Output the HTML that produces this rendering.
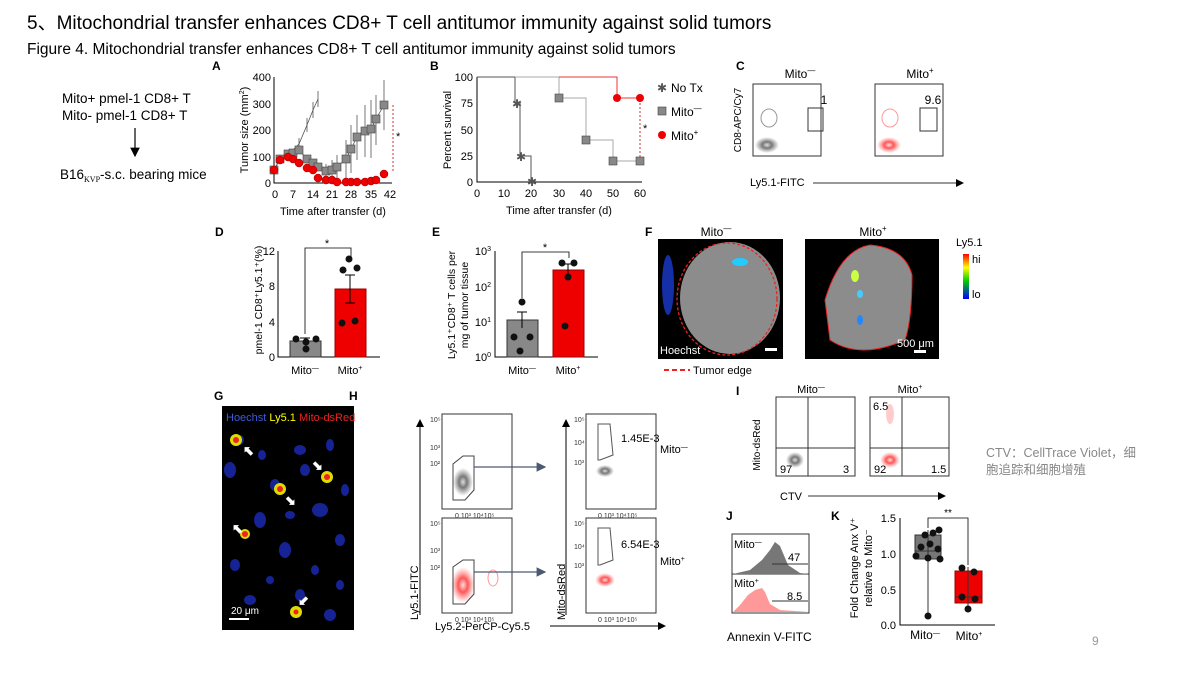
<!DOCTYPE html>
<html><head><meta charset="utf-8"><style>
body{margin:0;background:#fff;width:1192px;height:671px;overflow:hidden}
svg{font-family:"Liberation Sans",Arial,"Noto Sans CJK SC",sans-serif}
</style></head><body>
<svg width="1192" height="671" viewBox="0 0 1192 671" xmlns="http://www.w3.org/2000/svg">
<defs>
<radialGradient id="gk"><stop offset="0" stop-color="#ddd"/><stop offset=".4" stop-color="#777"/><stop offset="1" stop-color="#888" stop-opacity="0"/></radialGradient>
<radialGradient id="rk"><stop offset="0" stop-color="#fdd"/><stop offset=".4" stop-color="#f55"/><stop offset="1" stop-color="#f88" stop-opacity="0"/></radialGradient>
<linearGradient id="cb" x1="0" y1="0" x2="0" y2="1"><stop offset="0" stop-color="#f00"/><stop offset=".3" stop-color="#ff0"/><stop offset=".6" stop-color="#0c0"/><stop offset="1" stop-color="#00f"/></linearGradient>
<marker id="ar" markerWidth="8" markerHeight="8" refX="7" refY="4" orient="auto"><path d="M0,0 L8,4 L0,8z" fill="#000"/></marker>
<marker id="ab" markerWidth="8" markerHeight="8" refX="7" refY="4" orient="auto"><path d="M0,0 L8,4 L0,8z" fill="#4a5a70"/></marker>
</defs>
<text x="27" y="29" font-size="19">5、Mitochondrial transfer enhances CD8+ T cell antitumor immunity against solid tumors</text>
<text x="27" y="54" font-size="15.5">Figure 4. Mitochondrial transfer enhances CD8+ T cell antitumor immunity against solid tumors</text>
<text x="62" y="103" font-size="13.5">Mito+ pmel-1 CD8+ T</text>
<text x="62" y="120" font-size="13.5">Mito- pmel-1 CD8+ T</text>
<line x1="135" y1="128" x2="135" y2="156" stroke="#000" stroke-width="1.2" marker-end="url(#ar)"/>
<text x="60" y="179" font-size="13.5">B16<tspan font-size="8" dy="3" font-family="Liberation Serif">KVP</tspan><tspan dy="-3">-s.c. bearing mice</tspan></text>

<g font-size="11">
<!-- A -->
<text x="212" y="70" font-size="12" font-weight="bold">A</text>
<path d="M274,77 V183 H392" fill="none" stroke="#000"/>
<g text-anchor="end"><text x="271" y="81">400</text><text x="271" y="108">300</text><text x="271" y="134">200</text><text x="271" y="161">100</text><text x="271" y="187">0</text></g>
<g text-anchor="middle"><text x="275" y="198">0</text><text x="293" y="198">7</text><text x="313" y="198">14</text><text x="332" y="198">21</text><text x="351" y="198">28</text><text x="371" y="198">35</text><text x="390" y="198">42</text>
<text x="333" y="215">Time after transfer (d)</text></g>
<text transform="translate(248,130) rotate(-90)" text-anchor="middle">Tumor size (mm<tspan font-size="7" dy="-4">2</tspan><tspan dy="4">)</tspan></text>
<g stroke="#555" stroke-width="0.8" fill="none">
<path d="M274,170 L280,159 L288,154 L293,150 L299,144 L307,125 L313,110 L318,99"/>
<path d="M307,118v14M313,102v16M318,91v16M299,138v12"/>
<path d="M274,170 L280,159 L288,154 L293,153 L299,150 L307,159 L313,163 L318,167 L326,171 L332,170 L337,167 L346,159 L351,149 L357,137 L365,131 L371,129 L376,119 L384,105"/>
<path d="M326,164v14M332,160v20M337,155v24M346,140v38M351,125v48M357,115v45M365,105v52M371,100v58M376,95v50M384,80v50"/>
</g>
<g fill="#888" stroke="#444" stroke-width="0.6">
<rect x="270" y="166" width="8" height="8"/><rect x="276" y="155" width="8" height="8"/><rect x="284" y="150" width="8" height="8"/><rect x="289" y="149" width="8" height="8"/><rect x="295" y="146" width="8" height="8"/><rect x="303" y="155" width="8" height="8"/><rect x="309" y="159" width="8" height="8"/><rect x="314" y="163" width="8" height="8"/><rect x="322" y="167" width="8" height="8"/><rect x="328" y="166" width="8" height="8"/><rect x="333" y="163" width="8" height="8"/><rect x="342" y="155" width="8" height="8"/><rect x="347" y="145" width="8" height="8"/><rect x="353" y="133" width="8" height="8"/><rect x="361" y="127" width="8" height="8"/><rect x="367" y="125" width="8" height="8"/><rect x="372" y="115" width="8" height="8"/><rect x="380" y="101" width="8" height="8"/>
</g>
<g fill="#e00" stroke="#900" stroke-width="0.5">
<circle cx="274" cy="170" r="4"/><circle cx="280" cy="160" r="4"/><circle cx="288" cy="157" r="4"/><circle cx="293" cy="159" r="4"/><circle cx="299" cy="163" r="4"/><circle cx="307" cy="168" r="4"/><circle cx="313" cy="170" r="4"/><circle cx="318" cy="178" r="4"/><circle cx="326" cy="180" r="4"/><circle cx="332" cy="180" r="4"/><circle cx="337" cy="182" r="4"/><circle cx="346" cy="182" r="4"/><circle cx="351" cy="182" r="4"/><circle cx="357" cy="182" r="4"/><circle cx="365" cy="182" r="4"/><circle cx="371" cy="181" r="4"/><circle cx="376" cy="180" r="4"/><circle cx="384" cy="174" r="4"/>
</g>
<line x1="393" y1="105" x2="393" y2="172" stroke="#c33" stroke-dasharray="2,2"/>
<text x="396" y="140">*</text>

<!-- B -->
<text x="430" y="70" font-size="12" font-weight="bold">B</text>
<path d="M477,77 V182 H642" fill="none" stroke="#000"/>
<g text-anchor="end"><text x="473" y="81">100</text><text x="473" y="107">75</text><text x="473" y="134">50</text><text x="473" y="160">25</text><text x="473" y="186">0</text></g>
<g text-anchor="middle"><text x="477" y="197">0</text><text x="504" y="197">10</text><text x="531" y="197">20</text><text x="559" y="197">30</text><text x="586" y="197">40</text><text x="613" y="197">50</text><text x="640" y="197">60</text>
<text x="559" y="214">Time after transfer (d)</text></g>
<text transform="translate(451,130) rotate(-90)" text-anchor="middle">Percent survival</text>
<path d="M477,77 H515 V103 H520 V156 H531 V182" fill="none" stroke="#555"/>
<path d="M515,77 H559 V98 H586 V140 H613 V161 H640" fill="none" stroke="#aaa"/>
<path d="M559,77 H617 V98 H640" fill="none" stroke="#e33"/>
<line x1="640" y1="99" x2="640" y2="159" stroke="#c33" stroke-dasharray="2,2"/>
<text x="643" y="132">*</text>
<g font-size="12" fill="#555"><text x="512" y="108">✱</text><text x="516" y="161">✱</text><text x="527" y="186">✱</text></g>
<g fill="#888" stroke="#444" stroke-width="0.6"><rect x="555" y="94" width="8" height="8"/><rect x="582" y="136" width="8" height="8"/><rect x="609" y="157" width="8" height="8"/><rect x="636" y="157" width="8" height="8"/></g>
<circle cx="617" cy="98" r="4" fill="#e00"/><circle cx="640" cy="98" r="4" fill="#e00"/>
<text x="657" y="92" font-size="12" fill="#555">✱</text><text x="671" y="92" font-size="12">No Tx</text>
<rect x="658" y="107" width="8" height="8" fill="#888" stroke="#444" stroke-width=".6"/><text x="671" y="116" font-size="12">Mito<tspan font-size="8" dy="-5">—</tspan></text>
<circle cx="662" cy="135" r="4" fill="#e00"/><text x="671" y="140" font-size="12">Mito<tspan font-size="8" dy="-5">+</tspan></text>

<!-- C -->
<text x="736" y="70" font-size="12" font-weight="bold">C</text>
<text x="800" y="78" text-anchor="middle" font-size="12">Mito<tspan font-size="8" dy="-5">—</tspan></text>
<text x="920" y="78" text-anchor="middle" font-size="12">Mito<tspan font-size="8" dy="-5">+</tspan></text>
<rect x="753" y="84" width="68" height="72" fill="#fff" stroke="#333"/>
<rect x="875" y="84" width="68" height="72" fill="#fff" stroke="#333"/>
<ellipse cx="767" cy="145" rx="12" ry="8" fill="url(#gk)"/><ellipse cx="769" cy="118" rx="8" ry="9" fill="none" stroke="#999"/>
<ellipse cx="889" cy="145" rx="12" ry="8" fill="url(#rk)"/><ellipse cx="890" cy="118" rx="8" ry="9" fill="none" stroke="#f99"/>
<rect x="808" y="108" width="15" height="23" fill="none" stroke="#333"/><rect x="920" y="108" width="17" height="23" fill="none" stroke="#333"/>
<text x="824" y="104" font-size="12" text-anchor="middle">1</text><text x="933" y="104" font-size="12" text-anchor="middle">9.6</text>
<text transform="translate(741,120) rotate(-90)" text-anchor="middle" font-size="10">CD8-APC/Cy7</text>
<text x="750" y="186" font-size="11">Ly5.1-FITC</text>
<line x1="813" y1="183" x2="963" y2="183" stroke="#333" marker-end="url(#ar)"/>

<!-- D -->
<text x="215" y="236" font-size="12" font-weight="bold">D</text>
<path d="M278,251 V357 H380" fill="none" stroke="#000"/>
<g text-anchor="end"><text x="275" y="255">12</text><text x="275" y="290">8</text><text x="275" y="326">4</text><text x="275" y="361">0</text></g>
<rect x="290" y="341" width="31" height="16" fill="#888" stroke="#333"/>
<rect x="335" y="289" width="31" height="68" fill="#e00" stroke="#900"/>
<path d="M305,338v6M300,338h10M350,275v28M345,275h10M345,303h10" stroke="#000"/>
<g fill="#111"><circle cx="296" cy="339" r="3.5"/><circle cx="306" cy="342" r="3.5"/><circle cx="316" cy="339" r="3.5"/><circle cx="306" cy="349" r="3.5"/><circle cx="349" cy="259" r="3.5"/><circle cx="343" cy="270" r="3.5"/><circle cx="357" cy="268" r="3.5"/><circle cx="342" cy="323" r="3.5"/><circle cx="355" cy="321" r="3.5"/></g>
<path d="M305,334 V248 H351 V258" fill="none" stroke="#000" stroke-width=".8"/><text x="327" y="247" text-anchor="middle">*</text>
<g text-anchor="middle"><text x="305" y="374">Mito<tspan font-size="7" dy="-4">—</tspan></text><text x="350" y="374">Mito<tspan font-size="7" dy="-4">+</tspan></text></g>
<text transform="translate(262,300) rotate(-90)" text-anchor="middle" font-size="10.5">pmel-1 CD8⁺Ly5.1⁺(%)</text>

<!-- E -->
<text x="432" y="236" font-size="12" font-weight="bold">E</text>
<path d="M495,251 V357 H598" fill="none" stroke="#000"/>
<g text-anchor="end"><text x="491" y="255">10<tspan font-size="7" dy="-4">3</tspan></text><text x="491" y="291">10<tspan font-size="7" dy="-4">2</tspan></text><text x="491" y="326">10<tspan font-size="7" dy="-4">1</tspan></text><text x="491" y="361">10<tspan font-size="7" dy="-4">0</tspan></text></g>
<rect x="507" y="320" width="31" height="37" fill="#888" stroke="#333"/>
<rect x="553" y="270" width="31" height="87" fill="#e00" stroke="#900"/>
<path d="M522,312v16M517,312h10M568,264v12M563,264h10" stroke="#000"/>
<g fill="#111"><circle cx="522" cy="302" r="3.5"/><circle cx="514" cy="337" r="3.5"/><circle cx="530" cy="337" r="3.5"/><circle cx="520" cy="351" r="3.5"/><circle cx="562" cy="263" r="3.5"/><circle cx="574" cy="263" r="3.5"/><circle cx="568" cy="277" r="3.5"/><circle cx="565" cy="326" r="3.5"/></g>
<path d="M522,298 V252 H569 V258" fill="none" stroke="#000" stroke-width=".8"/><text x="545" y="251" text-anchor="middle">*</text>
<g text-anchor="middle"><text x="522" y="374">Mito<tspan font-size="7" dy="-4">—</tspan></text><text x="568" y="374">Mito<tspan font-size="7" dy="-4">+</tspan></text></g>
<text transform="translate(455,305) rotate(-90)" text-anchor="middle" font-size="10.5">Ly5.1⁺CD8⁺ T cells per</text>
<text transform="translate(468,305) rotate(-90)" text-anchor="middle" font-size="10.5">mg of tumor tissue</text>

<!-- F -->
<text x="645" y="236" font-size="12" font-weight="bold">F</text>
<text x="716" y="236" text-anchor="middle" font-size="12">Mito<tspan font-size="8" dy="-5">—</tspan></text>
<text x="873" y="236" text-anchor="middle" font-size="12">Mito<tspan font-size="8" dy="-5">+</tspan></text>
<rect x="658" y="239" width="125" height="120" fill="#000"/>
<ellipse cx="730" cy="298" rx="50" ry="56" fill="#8c8c8c"/>
<ellipse cx="668" cy="285" rx="6" ry="30" fill="#1a3bd0" opacity=".8"/><ellipse cx="740" cy="262" rx="8" ry="4" fill="#2cf"/>
<ellipse cx="727" cy="299" rx="50" ry="56" fill="none" stroke="#e22" stroke-dasharray="3,2" stroke-width="1.3"/>
<text x="660" y="354" font-size="11" fill="#fff">Hoechst</text><rect x="765" y="348" width="12" height="3" fill="#fff"/>
<rect x="805" y="239" width="134" height="120" fill="#000"/>
<path d="M825,300 Q840,250 870,245 Q905,248 912,275 Q912,320 905,340 Q860,360 830,340 Z" fill="#8c8c8c"/>
<path d="M825,300 Q840,250 870,245 Q905,248 912,275 Q912,320 905,340 Q860,360 830,340 Z" fill="none" stroke="#e22" stroke-width="1"/>
<ellipse cx="855" cy="276" rx="4" ry="6" fill="#cf4"/><ellipse cx="860" cy="294" rx="3" ry="4" fill="#4cf"/><ellipse cx="860" cy="320" rx="3" ry="5" fill="#28f"/>
<text x="897" y="347" font-size="11" fill="#fff">500 μm</text><rect x="914" y="350" width="12" height="3" fill="#fff"/>
<line x1="664" y1="370" x2="690" y2="370" stroke="#e22" stroke-width="2" stroke-dasharray="5,3"/><text x="693" y="374">Tumor edge</text>
<text x="956" y="246">Ly5.1</text><rect x="963" y="254" width="6" height="45" fill="url(#cb)"/>
<text x="972" y="263">hi</text><text x="972" y="298">lo</text>

<!-- G -->
<text x="214" y="400" font-size="12" font-weight="bold">G</text>
<rect x="222" y="406" width="132" height="224" fill="#000"/>
<g fill="#1a2ab0" opacity=".85"><ellipse cx="230" cy="470" rx="6" ry="8"/><ellipse cx="300" cy="450" rx="6" ry="5"/><ellipse cx="305" cy="470" rx="5" ry="6"/><ellipse cx="330" cy="445" rx="4" ry="6"/><ellipse cx="260" cy="520" rx="6" ry="8"/><ellipse cx="320" cy="510" rx="8" ry="7"/><ellipse cx="285" cy="550" rx="6" ry="8"/><ellipse cx="340" cy="540" rx="5" ry="6"/><ellipse cx="250" cy="600" rx="6" ry="5"/><ellipse cx="300" cy="595" rx="5" ry="6"/><ellipse cx="240" cy="440" rx="4" ry="5"/><ellipse cx="275" cy="485" rx="5" ry="6"/><ellipse cx="330" cy="615" rx="6" ry="6"/>
<ellipse cx="262" cy="455" rx="4" ry="5"/><ellipse cx="290" cy="515" rx="5" ry="4"/><ellipse cx="235" cy="565" rx="5" ry="6"/><ellipse cx="315" cy="570" rx="4" ry="5"/><ellipse cx="345" cy="490" rx="4" ry="6"/><ellipse cx="270" cy="580" rx="4" ry="4"/><ellipse cx="340" cy="585" rx="4" ry="5"/></g>
<text x="226" y="421" font-size="11"><tspan fill="#3b5bdb">Hoechst</tspan> <tspan fill="#ff0">Ly5.1</tspan> <tspan fill="#e22">Mito-dsRed</tspan></text>
<g fill="#dd0"><circle cx="236" cy="440" r="6"/><circle cx="327" cy="477" r="6"/><circle cx="280" cy="489" r="6"/><circle cx="245" cy="534" r="5"/><circle cx="296" cy="612" r="6"/></g>
<g fill="#e22"><circle cx="236" cy="440" r="3"/><circle cx="327" cy="477" r="3"/><circle cx="280" cy="489" r="3"/><circle cx="245" cy="534" r="3"/><circle cx="296" cy="612" r="2.5"/></g>
<g fill="#fff" font-size="13" font-weight="bold"><text x="243" y="455">⬉</text><text x="312" y="470">⬊</text><text x="285" y="505">⬊</text><text x="232" y="533">⬉</text><text x="298" y="605">⬋</text></g>
<rect x="229" y="618" width="20" height="2" fill="#fff"/><text x="231" y="614" font-size="10" fill="#fff">20 μm</text>

<!-- H -->
<text x="349" y="400" font-size="12" font-weight="bold">H</text>
<g fill="#fff" stroke="#333"><rect x="442" y="414" width="70" height="95"/><rect x="442" y="518" width="70" height="95"/><rect x="586" y="414" width="70" height="95"/><rect x="586" y="518" width="70" height="95"/></g>
<ellipse cx="463" cy="482" rx="10" ry="14" fill="url(#gk)"/><path d="M453,494 V464 L463,456 L474,456 L474,490 L465,500 H453Z" fill="none" stroke="#444"/>
<ellipse cx="463" cy="585" rx="12" ry="18" fill="url(#rk)"/><path d="M453,598 V567 L463,560 L474,560 L474,594 L465,604 H453Z" fill="none" stroke="#444"/>
<ellipse cx="493" cy="578" rx="5" ry="8" fill="none" stroke="#f99"/>
<ellipse cx="605" cy="471" rx="9" ry="6" fill="url(#gk)"/><ellipse cx="605" cy="580" rx="10" ry="7" fill="url(#rk)"/>
<path d="M598,424 H610 L613,455 L600,460 H598Z" fill="none" stroke="#555"/><path d="M598,528 H610 L613,560 L600,565 H598Z" fill="none" stroke="#555"/>
<line x1="474" y1="467" x2="545" y2="467" stroke="#4a5a70" stroke-width="1.2" marker-end="url(#ab)"/>
<line x1="474" y1="572" x2="545" y2="572" stroke="#4a5a70" stroke-width="1.2" marker-end="url(#ab)"/>
<text x="621" y="442" font-size="11">1.45E-3</text><text x="621" y="548" font-size="11">6.54E-3</text>
<text x="660" y="453" font-size="11">Mito<tspan font-size="7" dy="-4">—</tspan></text><text x="660" y="565" font-size="11">Mito<tspan font-size="7" dy="-4">+</tspan></text>
<line x1="420" y1="615" x2="420" y2="420" stroke="#000" marker-end="url(#ar)"/>
<line x1="566" y1="615" x2="566" y2="420" stroke="#000" marker-end="url(#ar)"/>
<text transform="translate(418,620) rotate(-90)" font-size="11">Ly5.1-FITC</text>
<text transform="translate(565,620) rotate(-90)" font-size="11">Mito-dsRed</text>
<text x="435" y="630" font-size="11">Ly5.2-PerCP-Cy5.5</text>
<line x1="550" y1="626" x2="665" y2="626" stroke="#000" marker-end="url(#ar)"/>
<g font-size="7" fill="#333"><text x="430" y="422">10⁵</text><text x="430" y="450">10³</text><text x="430" y="466">10²</text><text x="430" y="526">10⁵</text><text x="430" y="553">10³</text><text x="430" y="570">10²</text>
<text x="574" y="422">10⁵</text><text x="574" y="445">10⁴</text><text x="574" y="465">10³</text><text x="574" y="526">10⁵</text><text x="574" y="549">10⁴</text><text x="574" y="568">10³</text>
<text x="455" y="518">0 10³  10⁴10⁵</text><text x="455" y="622">0 10³  10⁴10⁵</text><text x="598" y="518">0 10³  10⁴10⁵</text><text x="598" y="622">0 10³  10⁴10⁵</text></g>

<!-- I -->
<text x="736" y="395" font-size="12" font-weight="bold">I</text>
<text x="811" y="393" text-anchor="middle" font-size="11">Mito<tspan font-size="7" dy="-4">—</tspan></text>
<text x="910" y="393" text-anchor="middle" font-size="11">Mito<tspan font-size="7" dy="-4">+</tspan></text>
<rect x="776" y="397" width="79" height="79" fill="#fff" stroke="#333"/><rect x="870" y="397" width="79" height="79" fill="#fff" stroke="#333"/>
<path d="M808,397V476M776,448H855M902,397V476M870,448H949" stroke="#333"/>
<ellipse cx="795" cy="460" rx="9" ry="8" fill="url(#gk)"/><ellipse cx="890" cy="460" rx="10" ry="8" fill="url(#rk)"/><ellipse cx="890" cy="414" rx="4" ry="10" fill="#fcc"/>
<g font-size="11"><text x="780" y="473">97</text><text x="843" y="473">3</text><text x="874" y="473">92</text><text x="931" y="473">1.5</text><text x="873" y="410">6.5</text></g>
<text transform="translate(760,445) rotate(-90)" text-anchor="middle" font-size="10">Mito-dsRed</text>
<text x="780" y="500" font-size="11">CTV</text><line x1="808" y1="496" x2="945" y2="496" stroke="#333" marker-end="url(#ar)"/>
<text x="986" y="457" font-size="12.5" fill="#888">CTV：CellTrace Violet，细</text>
<text x="986" y="474" font-size="12.5" fill="#888">胞追踪和细胞增殖</text>

<!-- J -->
<text x="726" y="520" font-size="12" font-weight="bold">J</text>
<rect x="732" y="534" width="77" height="79" fill="#fff" stroke="#333"/><line x1="732" y1="574" x2="809" y2="574" stroke="#333"/>
<path d="M733,574 L750,570 L762,560 L770,550 L775,542 L780,546 L788,565 L800,573 L809,574Z" fill="#777"/>
<path d="M733,612 L740,605 L748,595 L755,590 L762,588 L765,592 L770,604 L780,610 L809,612Z" fill="#f99"/>
<path d="M772,564H808M772,601H808" stroke="#333"/>
<text x="734" y="548" font-size="11">Mito<tspan font-size="7" dy="-4">—</tspan></text><text x="734" y="587" font-size="11">Mito<tspan font-size="7" dy="-4">+</tspan></text>
<text x="788" y="561" font-size="11">47</text><text x="787" y="600" font-size="11">8.5</text>
<text x="727" y="641" font-size="12">Annexin V-FITC</text>

<!-- K -->
<text x="831" y="520" font-size="12" font-weight="bold">K</text>
<path d="M900,518 V625 H995" fill="none" stroke="#000"/>
<g text-anchor="end"><text x="896" y="522">1.5</text><text x="896" y="558">1.0</text><text x="896" y="594">0.5</text><text x="896" y="629">0.0</text></g>
<rect x="915" y="535" width="26" height="24" fill="#777" stroke="#333"/>
<rect x="955" y="571" width="27" height="32" fill="#e00" stroke="#900"/>
<path d="M928,530V616M968,567V609M915,551H941M955,597H982" stroke="#333"/>
<g fill="#111"><circle cx="925" cy="535" r="3.5"/><circle cx="933" cy="533" r="3.5"/><circle cx="939" cy="530" r="3.5"/><circle cx="921" cy="547" r="3.5"/><circle cx="930" cy="544" r="3.5"/><circle cx="938" cy="549" r="3.5"/><circle cx="916" cy="556" r="3.5"/><circle cx="940" cy="559" r="3.5"/><circle cx="928" cy="558" r="3.5"/><circle cx="928" cy="616" r="3.5"/><circle cx="962" cy="568" r="3.5"/><circle cx="974" cy="572" r="3.5"/><circle cx="962" cy="597" r="3.5"/><circle cx="975" cy="599" r="3.5"/><circle cx="968" cy="609" r="3.5"/></g>
<path d="M928,528V518H968V565" fill="none" stroke="#000" stroke-width=".8"/><text x="948" y="516" text-anchor="middle" font-size="10">**</text>
<g text-anchor="middle" font-size="12"><text x="925" y="639">Mito<tspan font-size="7" dy="-4">—</tspan></text><text x="969" y="640">Mito<tspan font-size="7" dy="-4">+</tspan></text></g>
<text transform="translate(858,568) rotate(-90)" text-anchor="middle" font-size="11">Fold Change Anx V⁺</text>
<text transform="translate(872,568) rotate(-90)" text-anchor="middle" font-size="11">relative to Mito⁻</text>
<text x="1092" y="645" font-size="12" fill="#999">9</text>
</g>
</svg>
</body></html>
